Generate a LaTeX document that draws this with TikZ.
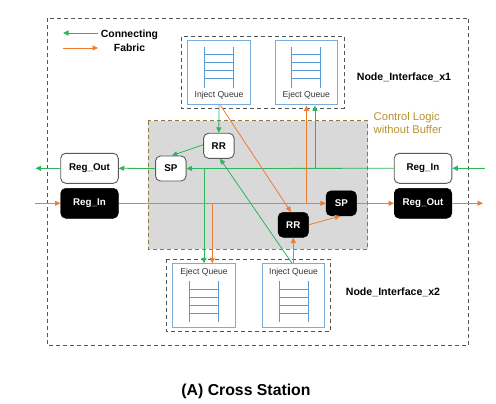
\documentclass[tikz,border=0pt]{standalone}
\usepackage{fontspec}
\setmainfont{Liberation Sans}
\usetikzlibrary{arrows.meta,calc}
\definecolor{gfab}{HTML}{2DB55D}
\definecolor{ofab}{HTML}{ED7D31}
\definecolor{qblue}{HTML}{7AADDB}
\definecolor{lblue}{HTML}{5B9BD5}
\definecolor{ctrlfill}{HTML}{D9D9D9}
\definecolor{ctrlline}{HTML}{8C7A3C}
\definecolor{ctrltext}{HTML}{B8912E}
\definecolor{dash}{HTML}{555555}
\newcommand\qladder[2]{%
 \begin{scope}[shift={(#1.center)}, yscale=#2]
  \draw[qline] (-14.5,-26) -- (-14.5,15) (14.5,-26) -- (14.5,15);
  \foreach \yy in {-18,-10,-2,6} \draw[qline] (-14.5,\yy) -- (14.5,\yy);
 \end{scope}}
\tikzset{
  x=1pt, y=-1pt,
  tip/.style={-{Triangle[length=5.5pt,width=5pt]}},
  gline/.style={draw=gfab, line width=0.8pt, tip},
  oline/.style={draw=ofab, line width=0.8pt, tip},
  qline/.style={draw=lblue, line width=0.9pt},
  qbox/.style={draw=qblue, line width=1.1pt, minimum width=62.5pt, minimum height=64pt, inner sep=0pt},
  qtext/.style={font=\fontsize{8.6}{10}\selectfont, text=black!80, inner sep=0pt},
  dbox/.style={draw=dash, dashed, dash pattern=on 4pt off 3pt, line width=0.9pt},
  wnode/.style={draw=black!65, line width=0.9pt, fill=white, rounded corners=5pt, font=\bfseries\fontsize{9.8}{11}\selectfont, inner sep=0pt},
  bnode/.style={draw=black, fill=black, text=white, rounded corners=5pt, font=\bfseries\fontsize{9.8}{11}\selectfont, inner sep=0pt},
  regbox/.style={minimum width=57.6pt, minimum height=30pt},
  smallbox/.style={minimum width=30.5pt, minimum height=25pt},
  blabel/.style={font=\bfseries\fontsize{10.6}{12}\selectfont, inner sep=0pt},
}
\begin{document}
\begin{tikzpicture}
\useasboundingbox (0,0) rectangle (496,404);
% outer dashed box
\draw[dbox] (47.7,18.3) rectangle (468.7,345.7);
% control logic
\draw[fill=ctrlfill, draw=ctrlline, dashed, dash pattern=on 4pt off 3pt, line width=0.9pt] (148.3,120.7) rectangle (367.7,249);
\node[anchor=west, align=left, text=ctrltext, font=\fontsize{11.2}{12.6}\selectfont, inner sep=0pt] (ctrl) at (373.5,123) {Control Logic\\without Buffer};
% node interface boxes
\draw[dbox] (181.7,36.7) rectangle (344,108.3);
\draw[dbox] (166.7,259) rectangle (330,331.7);
\node[blabel] (ni1) at (404,77.7) {Node\_Interface\_x1};
\node[blabel] (ni2) at (393,292.7) {Node\_Interface\_x2};
% queues
\node[qbox] (iq1) at (219,72.9) {};
\node[qbox] (eq1) at (306.3,72.9) {};
\node[qbox] (eq2) at (204,295.85) {};
\node[qbox] (iq2) at (293.5,295.85) {};
\qladder{iq1}{1}\qladder{eq1}{1}\qladder{eq2}{-1}\qladder{iq2}{-1}
\node[qtext] (iq1t) at (219,95.7) {Inject Queue};
\node[qtext] (eq1t) at (306.3,95.7) {Eject Queue};
\node[qtext] (eq2t) at (204,272.7) {Eject Queue};
\node[qtext] (iq2t) at (293.5,272.7) {Inject Queue};
% legend
\coordinate (lg1) at (98,33);
\coordinate (lg2) at (63,33);
\coordinate (lo1) at (63,48);
\coordinate (lo2) at (98,48);
\draw[gline] (lg1) -- (lg2);
\draw[oline] (lo1) -- (lo2);
\node[align=center, font=\bfseries\fontsize{10.4}{14}\selectfont, inner sep=0pt] (legend) at (129.5,40.3) {Connecting\\Fabric};
% nodes
\node[wnode, regbox] (rout1) at (89.5,168.3) {Reg\_Out};
\node[bnode, regbox] (rin1) at (89.5,203.3) {Reg\_In};
\node[wnode, regbox] (rin2) at (423,168.3) {Reg\_In};
\node[bnode, regbox] (rout2) at (423,203.3) {Reg\_Out};
\node[wnode, smallbox] (spw) at (170.8,168.5) {SP};
\node[wnode, smallbox] (rrw) at (218.8,145.8) {RR};
\node[bnode, smallbox] (spb) at (341.3,203.3) {SP};
\node[bnode, smallbox] (rrb) at (293.3,224.8) {RR};
% title
\node[font=\bfseries\fontsize{15.8}{18}\selectfont, inner sep=0pt] (title) at (246,391) {(A) Cross Station};
% green fabric
\coordinate (gin) at (485,168.3);
\coordinate (gout) at (35.5,168.3);
\coordinate (gb1) at (315,168.3);
\coordinate (gb2) at (204,168.3);
\draw[gline] (gin) -- (rin2.east);
\draw[gline] (rin2.west) -- (spw.east);
\draw[gline] (spw.west) -- (rout1.east);
\draw[gline] (rout1.west) -- (gout);
\draw[gline] (gb1) -- (gb1 |- eq1.south);
\draw[gline] (gb2) -- (gb2 |- eq2.north);
\draw[gline] (iq1.south) -- (rrw.north);
\draw[gline] ([yshift=1pt]rrw.west) -- ([xshift=1pt]spw.north);
\draw[gline] ([xshift=-1.5pt]iq2.north) -- ([xshift=1.2pt]rrw.south);
% orange fabric
\coordinate (oin) at (35,203.3);
\coordinate (oout) at (483,203.3);
\coordinate (ob1) at (306.5,203.3);
\coordinate (ob2) at (212.3,203.3);
\draw[oline] (oin) -- (rin1.west);
\draw[oline] (rin1.east) -- (spb.west);
\draw[oline] (spb.east) -- (rout2.west);
\draw[oline] (rout2.east) -- (oout);
\draw[oline] (ob1) -- (ob1 |- eq1.south);
\draw[oline] (ob2) -- (ob2 |- eq2.north);
\draw[oline] ([xshift=1.5pt]iq1.south) -- ([xshift=-2.3pt]rrb.north);
\draw[oline] (iq2.north -| rrb.south) -- (rrb.south);
\draw[oline] (rrb.east) -- ([xshift=-1pt]spb.south);
\end{tikzpicture}
\end{document}
